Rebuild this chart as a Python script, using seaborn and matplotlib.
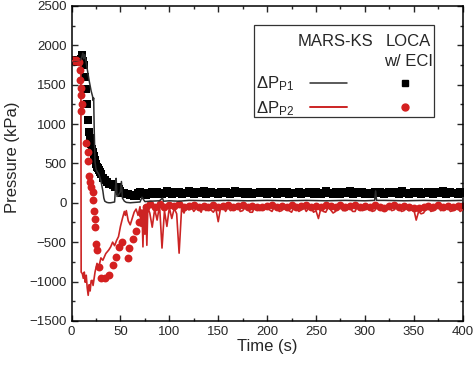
import numpy as np
import pandas as pd
import matplotlib
matplotlib.use("Agg")
import matplotlib.pyplot as plt
import seaborn as sns
from matplotlib.patches import Rectangle
from matplotlib.lines import Line2D
from matplotlib.ticker import MultipleLocator

# common time base for the long tail (s)
tail_t = [80, 82.5, 85, 87.5, 90, 92.5, 95, 97.5, 100, 102.5, 105, 107.5, 110, 112.5, 115, 117.5,
          120, 122.5, 125, 127.5, 130, 132.5, 135, 137.5, 140, 142.5, 145, 147.5, 150, 152.5, 155, 157.5,
          160, 162.5, 165, 167.5, 170, 172.5, 175, 177.5, 180, 182.5, 185, 187.5, 190, 192.5, 195, 197.5,
          200, 202.5, 205, 207.5, 210, 212.5, 215, 217.5, 220, 222.5, 225, 227.5, 230, 232.5, 235, 237.5,
          240, 242.5, 245, 247.5, 250, 252.5, 255, 257.5, 260, 262.5, 265, 267.5, 270, 272.5, 275, 277.5,
          280, 282.5, 285, 287.5, 290, 292.5, 295, 297.5, 300, 302.5, 305, 307.5, 310, 312.5, 315, 317.5,
          320, 322.5, 325, 327.5, 330, 332.5, 335, 337.5, 340, 342.5, 345, 347.5, 350, 352.5, 355, 357.5,
          360, 362.5, 365, 367.5, 370, 372.5, 375, 377.5, 380, 382.5, 385, 387.5, 390, 392.5, 395, 397.5,
          400]

# MARS-KS dP_P1 (dark line)
mars_p1_t = [0, 3, 6, 9, 10.5, 11.5, 12.5, 13.5, 14.5, 16, 18, 20, 21.5, 22, 22.6, 23.2,
             24, 25, 26, 27, 28, 30, 32, 33, 34, 36, 38, 40, 42, 44, 45, 45.6, 46.5, 48,
             50, 51, 52, 54, 56, 60, 65, 70, 72, 75, 80, 90, 93, 94, 100, 110, 120, 140,
             160, 180, 200, 220, 240, 260, 280, 300, 310, 311, 312, 320, 340, 360, 380, 400]
mars_p1_p = [1790, 1800, 1800, 1810, 1850, 1900, 1830, 1880, 1820, 1700, 1550, 1420, 1350,
             1300, 1330, 900, 520, 430, 400, 380, 360, 280, 150, 60, 20, 5, 0, 0, 5, 10,
             200, 310, 80, 100, 140, 270, 60, 20, 5, 0, 5, 10, 70, 15, 20, 25, 60, 20, 25,
             20, 30, 25, 30, 25, 30, 25, 30, 25, 30, 25, 30, 150, 30, 30, 25, 30, 25, 30]

# MARS-KS dP_P2 (red line), transient part then tail on tail_t
mars_p2_t = [0, 4, 8, 9.5, 9.8, 11, 12, 13, 14, 15, 16, 17, 18, 19, 20, 21, 22, 24, 26, 28,
             30, 32, 35, 38, 40, 42, 44, 46, 48, 50, 52, 54, 55, 56, 58, 60, 62, 64, 66, 68,
             70, 71, 72, 73, 74, 75, 76, 77, 78]
mars_p2_p = [1800, 1810, 1800, 1790, -880, -900, -960, -880, -1010, -920, -1080, -1175,
             -1040, -1120, -990, -985, -1050, -880, -770, -810, -700, -730, -645, -600,
             -560, -500, -545, -480, -430, -300, -200, -110, -160, -100, -230, -280, -200,
             -120, -80, -160, -50, -300, -90, -560, -40, -400, -80, -540, -60]
mars_p2_tail = [-130, -310, -80, -220, -30, -575, -100, -300, -60, -200, -70, -140, -640, -80, -130, -40,
                -90, -50, -110, -70, -60, -120, -40, -100, -50, -90, -120, -70, -240, -60, -40, -110,
                -60, -100, -90, -40, -30, -110, -100, -60, -70, -120, -120, -50, -50, -100, -90, -40,
                -40, -90, -110, -50, -60, -110, -100, -40, -70, -100, -120, -60, -50, -110, -90, -50,
                -110, -70, -60, -120, -100, -200, -70, -110, -120, -60, -90, -130, -110, -50, -60, -100,
                -100, -50, -70, -110, -110, -40, -50, -100, -90, -40, -60, -110, -100, -50, -40, -90,
                -80, -40, -50, -100, -90, -50, -60, -110, -100, -60, -100, -70, -80, -220, -110, -140,
                -130, -80, -60, -110, -100, -50, -50, -100, -90, -60, -60, -110, -100, -60, -70, -110,
                -90]

# LOCA w/ ECI dP_P1 (black squares), transient part then tail on tail_t
loca_p1_t = [0, 1, 2, 3, 4, 5, 6, 7, 8, 9, 10, 11, 12, 13, 14, 15, 16, 17, 18, 19, 20, 21,
             22, 23, 24, 25, 26, 27, 28, 29, 30, 32, 34, 36, 38, 40, 42, 44, 46, 48, 50, 52,
             54, 56, 58, 60, 62, 64, 66, 68, 70, 72, 74, 76, 78]
loca_p1_p = [1800, 1810, 1800, 1805, 1800, 1795, 1800, 1790, 1800, 1810, 1830, 1880, 1800,
             1750, 1600, 1450, 1250, 1050, 900, 820, 740, 680, 640, 600, 540, 490, 460, 440,
             410, 390, 370, 320, 290, 260, 235, 240, 220, 205, 195, 170, 150, 130, 120, 115,
             105, 100, 98, 90, 85, 130, 140, 110, 120, 95, 105]
loca_p1_tail = [120, 135, 115, 140, 125, 110, 130, 145, 120, 115, 135, 125, 140, 110, 130, 120,
                150, 125, 115, 135, 130, 120, 145, 115, 125, 140, 120, 130, 110, 135, 125, 140,
                120, 115, 130, 145, 125, 120, 135, 115, 140, 125, 110, 130, 120, 140, 125, 135,
                115, 120, 140, 130, 110, 125, 135, 120, 140, 115, 130, 125, 120, 140, 115, 130,
                125, 135, 120, 110, 140, 130, 115, 125, 145, 120, 130, 115, 135, 125, 110, 140,
                120, 130, 145, 115, 125, 135, 120, 140, 110, 130, 125, 115, 140, 120, 135, 125,
                110, 130, 140, 120, 125, 135, 115, 145, 120, 130, 110, 125, 140, 120, 135, 115,
                130, 120, 140, 125, 115, 135, 120, 130, 145, 115, 125, 140, 120, 130, 110, 135,
                125]

# LOCA w/ ECI dP_P2 (red circles)
loca_p2_t = [0, 1.5, 3, 4.5, 6, 7.5, 8.5, 8.5, 9.5, 10, 10.5, 9.8, 14.5, 16.5, 17, 18, 18.5,
             19.5, 21.5, 22, 22.5, 23.5, 24, 25, 26, 28, 30.5, 34, 38.5, 42, 45.5, 49, 52,
             57.4, 59, 62.5, 66, 69.4, 72.5, 76,
             80, 85, 90, 95, 100, 105, 110, 115, 120, 125, 130, 135, 140, 145, 150, 155,
             160, 165, 170, 175, 180, 185, 190, 195, 200, 205, 210, 215, 220, 225, 230, 235,
             240, 245, 250, 255, 260, 265, 270, 275, 280, 285, 290, 295, 300, 305, 310, 315,
             320, 325, 330, 335, 340, 345, 350, 355, 360, 365, 370, 375, 380, 385, 390, 395, 400]
loca_p2_p = [1810, 1815, 1805, 1810, 1800, 1790, 1690, 1560, 1460, 1370, 1250, 1160, 760,
             650, 530, 340, 270, 200, 140, 40, -100, -200, -310, -520, -600, -820, -960,
             -950, -920, -790, -690, -560, -500, -700, -580, -455, -360, -250, -140, -60,
             -10, -50, -20, -60, -25, -40, -15, -55, -35, -25,
             -60, -35, -50, -25, -55, -40, -30, -60, -40, -25,
             -55, -35, -50, -60, -40, -30, -55, -40, -50, -30,
             -55, -40, -30, -50, -40, -55, -30, -40, -50, -30,
             -50, -40, -30, -50, -40, -55, -30, -50, -65, -40,
             -30, -55, -40, -50, -70, -65, -55, -40, -50, -30,
             -55, -40, -50, -40, -40]

red = "#cc2424"
dark = "#2e2e2e"

sns.set_style("ticks")
plt.rcParams["font.family"] = ["Liberation Sans", "DejaVu Sans"]
plt.rcParams["mathtext.fontset"] = "custom"
plt.rcParams["mathtext.rm"] = "Liberation Sans"
plt.rcParams["mathtext.it"] = "Liberation Sans:italic"

sq = pd.DataFrame({"t": loca_p1_t + tail_t, "p": loca_p1_p + loca_p1_tail})
rl = pd.DataFrame({"t": mars_p2_t + tail_t, "p": mars_p2_p + mars_p2_tail})

fig = plt.figure(figsize=(4.74, 3.68), dpi=100)
ax = fig.add_axes([0.151, 0.128, 0.825, 0.856])

sns.scatterplot(data=sq, x="t", y="p", marker="s", s=26, color="black",
                linewidth=0, ax=ax, zorder=2)
sns.scatterplot(x=loca_p2_t, y=loca_p2_p, marker="o", s=32, color="#d42020",
                linewidth=0, ax=ax, zorder=2)
sns.lineplot(x=mars_p1_t, y=mars_p1_p, sort=False, estimator=None, color=dark,
             linewidth=1.1, ax=ax, zorder=3)
sns.lineplot(data=rl, x="t", y="p", sort=False, estimator=None, color=red,
             linewidth=1.2, ax=ax, zorder=3)

ax.set_xlim(0, 400)
ax.set_ylim(-1500, 2500)
ax.xaxis.set_major_locator(MultipleLocator(50))
ax.xaxis.set_minor_locator(MultipleLocator(25))
ax.yaxis.set_major_locator(MultipleLocator(500))
ax.yaxis.set_minor_locator(MultipleLocator(250))
ax.tick_params(which="both", direction="in", top=True, right=True, width=1, labelsize=9.5)
ax.tick_params(which="major", length=4)
ax.tick_params(which="minor", length=2.5)
for sp in ax.spines.values():
    sp.set_linewidth(1.1)
    sp.set_color("black")

ax.set_xlabel("Time (s)", fontsize=12)
ax.set_ylabel("Pressure (kPa)", fontsize=12)
ax.xaxis.set_label_coords(0.5, -0.058)
ax.yaxis.set_label_coords(-0.132, 0.52)

# custom legend box
T = ax.transAxes
ax.add_patch(Rectangle((0.467, 0.648), 0.46, 0.292, transform=T, facecolor="white",
                       edgecolor="#333333", linewidth=0.9, zorder=5))
ax.text(0.674, 0.886, "MARS-KS", transform=T, ha="center", va="center", fontsize=12, zorder=6)
ax.text(0.862, 0.886, "LOCA", transform=T, ha="center", va="center", fontsize=12, zorder=6)
ax.text(0.862, 0.822, "w/ ECI", transform=T, ha="center", va="center", fontsize=12, zorder=6)
ax.text(0.472, 0.752, r"$\Delta\mathrm{P}_{\mathrm{P1}}$", transform=T, ha="left",
        va="center", fontsize=12, zorder=6)
ax.text(0.472, 0.675, r"$\Delta\mathrm{P}_{\mathrm{P2}}$", transform=T, ha="left",
        va="center", fontsize=12, zorder=6)
ax.add_line(Line2D([0.610, 0.705], [0.756, 0.756], transform=T, color=dark, lw=1.1, zorder=6))
ax.add_line(Line2D([0.610, 0.705], [0.679, 0.679], transform=T, color=red, lw=1.4, zorder=6))
ax.add_line(Line2D([0.853], [0.756], transform=T, marker="s", ms=4, color="black",
                   linestyle="none", zorder=6))
ax.add_line(Line2D([0.853], [0.679], transform=T, marker="o", ms=5, color="#d42020",
                   linestyle="none", zorder=6))

fig.savefig("out.png", dpi=100)
